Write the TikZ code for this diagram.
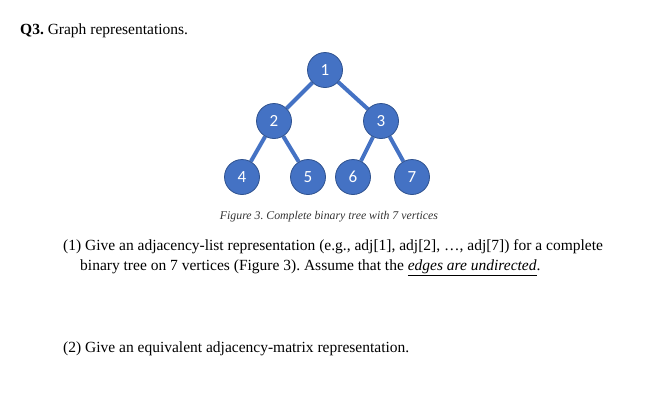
\documentclass[tikz,border=0pt]{standalone}
\usepackage{fontspec}
\setmainfont{Liberation Serif}
\newfontfamily\nodefont{Carlito}
\usetikzlibrary{backgrounds}
\definecolor{nblue}{HTML}{4472C4}
\definecolor{nborder}{HTML}{2F528F}
\frenchspacing
\begin{document}
\begin{tikzpicture}[x=1pt,y=-1pt,
  vert/.style={circle,fill=nblue,draw=nborder,line width=0.8pt,minimum size=35pt,inner sep=0pt,text=white,font=\nodefont\fontsize{17}{17}\selectfont},
  edge/.style={draw=nblue,line width=4pt},
  txt/.style={anchor=base west,inner sep=0pt,font=\fontsize{15.5}{18}\selectfont}]
\useasboundingbox (0,0) rectangle (669,405);
\node[txt] (title) at (20,34) {\textbf{Q3.} Graph representations.};
\node[vert] (n1) at (325,70) {1};
\node[vert] (n2) at (274,121) {2};
\node[vert] (n3) at (381,121) {3};
\node[vert] (n4) at (242,177) {4};
\node[vert] (n5) at (308,177) {5};
\node[vert] (n6) at (353,177) {6};
\node[vert] (n7) at (412,177) {7};
\begin{scope}[on background layer]
\draw[edge] (n1) -- (n2); \draw[edge] (n1) -- (n3);
\draw[edge] (n2) -- (n4); \draw[edge] (n2) -- (n5);
\draw[edge] (n3) -- (n6); \draw[edge] (n3) -- (n7);
\end{scope}
\node[anchor=base,inner sep=0pt,font=\fontsize{11.8}{13}\selectfont\itshape,text=black!80] (cap) at (329,219) {Figure 3. Complete binary tree with 7 vertices};
\node[txt] (q1a) at (63,250) {(1) Give an adjacency-list representation (e.g., adj[1], adj[2], \dots, adj[7]) for a complete};
\node[txt] (q1b) at (80,270) {binary tree on 7 vertices (Figure 3). Assume that the \underline{\textit{edges are undirected}}.};
\node[txt] (q2) at (63,352) {(2) Give an equivalent adjacency-matrix representation.};
\end{tikzpicture}
\end{document}
